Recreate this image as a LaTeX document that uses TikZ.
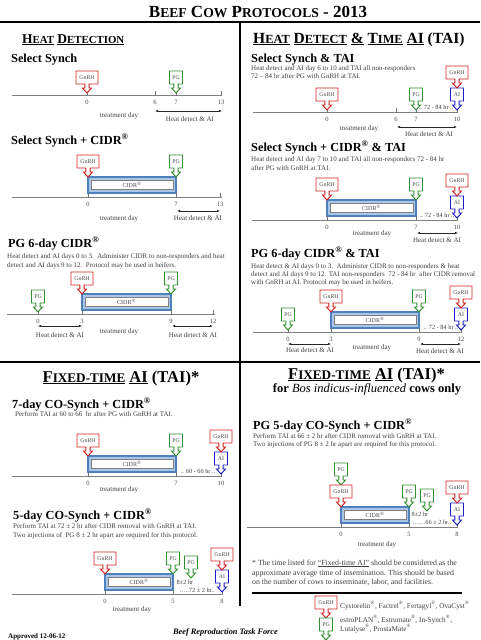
\documentclass[tikz,border=0pt]{standalone}
\usepackage{fontspec}
\setmainfont{Liberation Serif}
\usetikzlibrary{arrows.meta,calc}
\makeatletter
\newcommand\smc[1]{{\fontsize{\fpeval{0.8*\f@size}}{1}\selectfont #1}}
\makeatother
\newcommand\reg{\textsuperscript{\textregistered}}
\definecolor{gnrh}{HTML}{D42020}
\definecolor{pg}{HTML}{2F8F2F}
\definecolor{ai}{HTML}{1C1CC8}
\definecolor{cidrf}{HTML}{A9C6E8}
\definecolor{cidrb}{HTML}{4F81BD}
\tikzset{
 calltext/.style={font=\fontsize{5.8}{6}\selectfont, text=black!70, inner sep=0pt},
 axisline/.style={draw=black!50, line width=0.8pt},
 tickline/.style={draw=black!55, line width=0.6pt},
 body/.style={font=\fontsize{7}{8}\selectfont, text=black!75, anchor=base west, inner sep=0pt},
 foot/.style={font=\fontsize{7.8}{9}\selectfont, text=black!75, anchor=base west, inner sep=0pt},
 legend/.style={font=\fontsize{7.3}{9}\selectfont, text=black!75, anchor=base west, inner sep=0pt},
 num/.style={font=\fontsize{6.5}{7}\selectfont, text=black!70, inner sep=0pt},
 lbl/.style={font=\fontsize{7}{8}\selectfont, text=black!75, inner sep=0pt},
 rng/.style={font=\fontsize{6.3}{7}\selectfont, text=black!75, inner sep=0pt},
 heading/.style={font=\bfseries\fontsize{12.3}{14}\selectfont, anchor=base west, inner sep=0pt},
 hdr/.style={font=\bfseries\fontsize{13.5}{15}\selectfont, anchor=base west, inner sep=0pt},
 bhdr/.style={font=\bfseries\fontsize{16.5}{18}\selectfont, anchor=base, inner sep=0pt},
 darrow/.style={{Latex[length=3pt,width=2.4pt]}-{Latex[length=3pt,width=2.4pt]}, line width=0.6pt, black!85},
 cidrout/.style={draw=cidrb, fill=cidrf, line width=1.1pt},
 cidrin/.style={draw=black!50, fill=white, line width=0.7pt, inner sep=0pt},
 frame/.style={line width=2.4pt, black},
}
% callout: name, colour, x, tip y, text, box width
\newcommand\callout[6]{%
 \path[draw=#2, fill=white, line width=0.95pt, line join=miter]
  ({#3-#6/2},{#4-22}) -- ({#3+#6/2},{#4-22}) -- ({#3+#6/2},{#4-9}) -- ({#3+2.2},{#4-9})
  -- ({#3+2.2},{#4-5}) -- ({#3+4.5},{#4-5}) -- (#3,#4) -- ({#3-4.5},{#4-5})
  -- ({#3-2.2},{#4-5}) -- ({#3-2.2},{#4-9}) -- ({#3-#6/2},{#4-9}) -- cycle;
 \node[calltext] (#1) at (#3,{#4-15.5}) {#5};
}
% tick: name, x, axis y, label
\newcommand\tk[4]{%
 \draw[tickline] (#2,{#3-4}) -- (#2,{#3+1});
 \node[num] (#1) at (#2,{#3+7.5}) {#4};
}
% cidr bar: name, x1, x2, axis y
\newcommand\cidr[4]{%
 \draw[tickline] (#2,{#4-4}) -- (#2,#4);
 \draw[tickline] (#3,{#4-4}) -- (#3,#4);
 \draw[cidrout] (#2,{#4-20}) rectangle (#3,{#4-4});
 \node[cidrin, minimum width={(#3-#2-6)*1pt}, minimum height=9.5pt] (#1) at ({(#2+#3)/2},{#4-12}) {\fontsize{6}{6}\selectfont\color{black!70}CIDR\reg};
}
\begin{document}
\begin{tikzpicture}[x=1pt,y=-1pt]
\useasboundingbox (0,0) rectangle (480,640);
\fill[white] (0,0) rectangle (480,640);

% title and frame
\node[font=\bfseries\fontsize{17}{18}\selectfont, anchor=base, inner sep=0pt] (title) at (258,17.5) {B\smc{EEF} C\smc{OW} P\smc{ROTOCOLS} - 2013};
\draw[frame] (0,22) -- (480,22);
\draw[frame] (240,22) -- (240,362);
\draw[frame] (0,362) -- (480,362);
\draw[frame] (240,362) -- (240,606);
\draw[line width=1.6pt] (252,593) -- (462,593);

\node[hdr] (h1) at (22,43) {\underline{H\smc{EAT}} \underline{D\smc{ETECTION}}};
\node[hdr, font=\bfseries\fontsize{15.5}{16}\selectfont] (h2) at (253,43) {\underline{H\smc{EAT}} \underline{D\smc{ETECT}} \underline{\&} \underline{T\smc{IME}} \underline{AI} (TAI)};
\node[bhdr] (h3) at (121,382) {\underline{F\smc{IXED-TIME}} \underline{AI} (TAI)*};
\node[bhdr] (h4) at (366.5,379) {\underline{F\smc{IXED-TIME}} \underline{AI} (TAI)*};
\node[font=\bfseries\fontsize{12.5}{14}\selectfont, anchor=base, inner sep=0pt] (h5) at (367,392.5) {for {\mdseries\itshape Bos indicus-influenced} cows only};

% ---------- D1 Select Synch
\node[heading] (s1) at (11,62) {Select Synch};
\draw[axisline] (12,95) -- (222,95);
\tk{d1t0}{87}{95}{0}\tk{d1t6}{155}{95}{6}\tk{d1t7}{176}{95}{7}\tk{d1t13}{221}{95}{13}
\callout{d1g}{gnrh}{87}{93}{GnRH}{22}
\callout{d1p}{pg}{176}{93}{PG}{13}
\draw[darrow] (155,111) -- (222,111);
\node[lbl] (d1td) at (119,116) {treatment day};
\node[lbl] (d1hd) at (190,119) {Heat detect \& AI};

% ---------- D2 Select Synch + CIDR
\node[heading] (s2) at (11,144) {Select Synch + CIDR\reg};
\draw[axisline] (12,197) -- (222,197);
\cidr{d2c}{88}{176}{197}
\tk{d2t0}{88}{197}{0}\tk{d2t7}{176}{197}{7}\tk{d2t13}{220}{197}{13}
\callout{d2g}{gnrh}{88}{177}{GnRH}{22}
\callout{d2p}{pg}{176}{177}{PG}{13}
\draw[darrow] (177,211) -- (220,211);
\node[lbl] (d2td) at (119,219) {treatment day};
\node[lbl] (d2hd) at (198,218) {Heat detect \& AI};

% ---------- D3 PG 6-day CIDR
\node[heading] (s3) at (8,247) {PG 6-day CIDR\reg};
\node[body] (b3a) at (7,258) {Heat detect and AI days 0 to 3.\ \ Administer CIDR to non-responders and heat};
\node[body] (b3b) at (7,267) {detect and AI days 9 to 12.\ \ Protocol may be used in heifers.};
\draw[axisline] (7,314) -- (215,314);
\cidr{d3c}{82}{171}{314}
\tk{d3t0}{38}{314}{0}\tk{d3t3}{82}{314}{3}\tk{d3t9}{171}{314}{9}\tk{d3t12}{213}{314}{12}
\callout{d3p1}{pg}{38}{312}{PG}{13}
\callout{d3g}{gnrh}{82}{294}{GnRH}{22}
\callout{d3p2}{pg}{171}{294}{PG}{13}
\draw[darrow] (38,326) -- (82,326);
\draw[darrow] (172,326) -- (213,326);
\node[lbl] (d3h1) at (60,335) {Heat detect \& AI};
\node[lbl] (d3h2) at (193,335) {Heat detect \& AI};
\node[lbl] (d3td) at (119,332) {treatment day};

% ---------- D4 Select Synch & TAI
\node[heading] (s4) at (251,62) {Select Synch \& TAI};
\node[body] (b4a) at (251,70) {Heat detect and AI day 6 to 10 and TAI all non-responders};
\node[body] (b4b) at (251,78) {72 – 84 hr after PG with GnRH at TAI.};
\draw[axisline] (253,112) -- (458,112);
\tk{d4t0}{327}{112}{0}\tk{d4t6}{396}{112}{6}\tk{d4t7}{416}{112}{7}\tk{d4t10}{457}{112}{10}
\node[rng] (d4r) at (436,107) {.. 72 - 84 hr ..};
\callout{d4g}{gnrh}{327}{110}{GnRH}{22}
\callout{d4p}{pg}{416}{110}{PG}{13}
\callout{d4a}{ai}{457}{110}{AI}{13}
\callout{d4g2}{gnrh}{457}{88}{GnRH}{22}
\draw[darrow] (397,127) -- (457,127);
\node[lbl] (d4td) at (359,129) {treatment day};
\node[lbl] (d4hd) at (429,134) {Heat detect \& AI};

% ---------- D5 Select Synch + CIDR & TAI
\node[heading] (s5) at (251,151) {Select Synch + CIDR\reg\ \& TAI};
\node[body] (b5a) at (251,161) {Heat detect and AI day 7 to 10 and TAI all non-responders 72 - 84 hr};
\node[body] (b5b) at (251,170) {after PG with GnRH at TAI.};
\draw[axisline] (252,220) -- (458,220);
\cidr{d5c}{327}{416}{220}
\tk{d5t0}{327}{220}{0}\tk{d5t7}{416}{220}{7}\tk{d5t10}{457}{220}{10}
\node[rng] (d5r) at (437,215) {.. 72 - 84 hr ..};
\callout{d5g}{gnrh}{327}{200}{GnRH}{22}
\callout{d5p}{pg}{416}{200}{PG}{13}
\callout{d5a}{ai}{457}{218}{AI}{13}
\callout{d5g2}{gnrh}{457}{196}{GnRH}{22}
\draw[darrow] (417,233) -- (458,233);
\node[lbl] (d5td) at (372,234) {treatment day};
\node[lbl] (d5hd) at (437,240) {Heat detect \& AI};

% ---------- D6 PG 6-day CIDR & TAI
\node[heading] (s6) at (251,257) {PG 6-day CIDR\reg\ \& TAI};
\node[body] (b6a) at (251,268) {Heat detect \& AI days 0 to 3.\ \ Administer CIDR to non-responders \& heat};
\node[body] (b6b) at (251,276) {detect and AI days 9 to 12. TAI non-responders\ \ 72 - 84 hr\ \ after CIDR removal};
\node[body] (b6c) at (251,284) {with GnRH at AI. Protocol may be used in heifers.};
\draw[axisline] (253,332) -- (462,332);
\cidr{d6c}{331}{419}{332}
\tk{d6t0}{288}{332}{0}\tk{d6t3}{331}{332}{3}\tk{d6t9}{419}{332}{9}\tk{d6t12}{461}{332}{12}
\node[rng] (d6r) at (441,327) {.. 72 - 84 hr ..};
\callout{d6p1}{pg}{288}{330}{PG}{13}
\callout{d6g}{gnrh}{331}{312}{GnRH}{22}
\callout{d6p2}{pg}{419}{312}{PG}{13}
\callout{d6a}{ai}{461}{330}{AI}{13}
\callout{d6g2}{gnrh}{461}{308}{GnRH}{22}
\draw[darrow] (288,344) -- (331,344);
\draw[darrow] (420,344) -- (461,344);
\node[lbl] (d6h1) at (310,350) {Heat detect \& AI};
\node[lbl] (d6h2) at (440,351) {Heat detect \& AI};
\node[lbl] (d6td) at (372,348) {treatment day};

% ---------- D7 7-day CO-Synch + CIDR
\node[heading] (s7) at (12,408) {7-day CO-Synch + CIDR\reg};
\node[body] (b7a) at (15,416) {Perform TAI at 60 to 66\ \ hr after PG with GnRH at TAI.};
\draw[axisline] (12,476) -- (222,476);
\cidr{d7c}{88}{176}{476}
\tk{d7t0}{88}{476}{0}\tk{d7t7}{176}{476}{7}\tk{d7t10}{221}{476}{10}
\node[rng] (d7r) at (198,471) {.. 60 - 66 hr ..};
\callout{d7g}{gnrh}{88}{456}{GnRH}{22}
\callout{d7p}{pg}{176}{456}{PG}{13}
\callout{d7a}{ai}{221}{474}{AI}{13}
\callout{d7g2}{gnrh}{221}{452}{GnRH}{22}
\node[lbl] (d7td) at (119,490) {treatment day};

% ---------- D8 5-day CO-Synch + CIDR
\node[heading] (s8) at (13,519) {5-day CO-Synch + CIDR\reg};
\node[body] (b8a) at (13,528) {Perform TAI at 72 ± 2 hr after CIDR removal with GnRH at TAI.};
\node[body] (b8b) at (13,537) {Two injections of\ \ PG 8 ± 2 hr apart are required for this protocol.};
\draw[axisline] (12,594) -- (222,594);
\cidr{d8c}{105}{173}{594}
\tk{d8t0}{105}{594}{0}\tk{d8t5}{173}{594}{5}\tk{d8t8}{222}{594}{8}
\node[rng] (d8s) at (185,582) {8±2 hr};
\node[rng] (d8r) at (197,590) {…..72 ± 2 hr..};
\callout{d8g}{gnrh}{105}{574}{GnRH}{22}
\callout{d8p1}{pg}{173}{574}{PG}{13}
\callout{d8p2}{pg}{191}{578}{PG}{13}
\callout{d8a}{ai}{222}{592}{AI}{13}
\callout{d8g2}{gnrh}{222}{570}{GnRH}{22}
\node[lbl] (d8td) at (132,610) {treatment day};

% ---------- D9 PG 5-day CO-Synch + CIDR
\node[heading] (s9) at (253,429) {PG 5-day CO-Synch + CIDR\reg};
\node[body] (b9a) at (253,438) {Perform TAI at 66 ± 2 hr after CIDR removal with GnRH at TAI.};
\node[body] (b9b) at (253,446) {Two injections of PG 8 ± 2 hr apart are required for this protocol.};
\draw[axisline] (247,527) -- (458,527);
\cidr{d9c}{341}{409}{527}
\tk{d9t0}{341}{527}{0}\tk{d9t5}{409}{527}{5}\tk{d9t8}{457}{527}{8}
\node[rng] (d9s) at (420,514) {8±2 hr};
\node[rng] (d9r) at (432,522) {……66 ± 2 hr..};
\callout{d9p0}{pg}{341}{485}{PG}{13}
\callout{d9g}{gnrh}{341}{507}{GnRH}{22}
\callout{d9p1}{pg}{409}{507}{PG}{13}
\callout{d9p2}{pg}{427}{511}{PG}{13}
\callout{d9a}{ai}{457}{525}{AI}{13}
\callout{d9g2}{gnrh}{457}{503}{GnRH}{22}
\node[lbl] (d9td) at (377,545) {treatment day};

% ---------- footnote and legend
\node[foot] (f1) at (252,565) {* The time listed for \underline{“Fixed-time AI”} should be considered as the};
\node[foot] (f2) at (252,575) {approximate average time of insemination. This should be based};
\node[foot] (f3) at (252,584) {on the number of cows to inseminate, labor, and facilities.};
\callout{lg}{gnrh}{326}{618}{GnRH}{22}
\callout{lp}{pg}{326}{640}{PG}{13}
\node[legend] (l1) at (340,608) {Cystorelin\reg, Factrel\reg, Fertagyl\reg, OvaCyst\reg};
\node[legend] (l2) at (340,622) {estroPLAN\reg, Estrumate\reg, In-Synch\reg,};
\node[legend] (l3) at (340,631) {Lutalyse\reg, ProstaMate\reg};
\node[font=\bfseries\fontsize{7}{7}\selectfont, anchor=base west, inner sep=0pt] (ap) at (8,638) {Approved 12-06-12};
\node[font=\bfseries\itshape\fontsize{8.3}{9}\selectfont, anchor=base west, inner sep=0pt] (tf) at (173,634) {Beef Reproduction Task Force};
\end{tikzpicture}
\end{document}
